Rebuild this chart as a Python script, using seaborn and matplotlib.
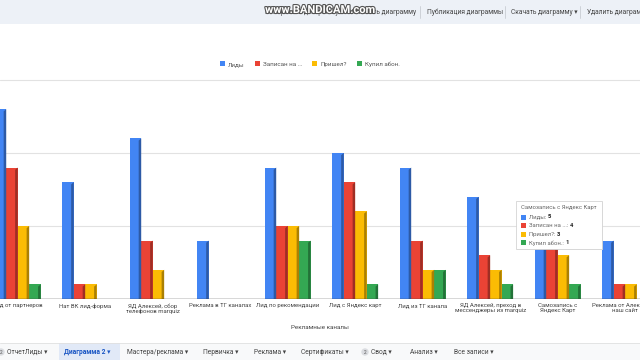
import numpy as np
import pandas as pd
import matplotlib
matplotlib.use("Agg")
import matplotlib.pyplot as plt
import matplotlib.patheffects as pe
from matplotlib.patches import Polygon, Rectangle
from matplotlib.text import Annotation
from matplotlib.colors import to_rgb
import seaborn as sns

sns.set_style("white")
plt.rcParams["font.family"] = ["Roboto", "DejaVu Sans"]

# ---------- data ----------
channels = [
    "Лид от партнеров",
    "Нат ВК лид-форма",
    "ЯД Алексей, сбор\nтелефонов marquiz",
    "Реклама в ТГ каналах",
    "Лид по рекомендации",
    "Лид с Яндекс карт",
    "Лид из ТГ канала",
    "ЯД Алексей, преход в\nмессенджеры из marquiz",
    "Самозапись с\nЯндекс Карт",
    "Реклама от Алексея на\nнаш сайт",
]
series = ["Лиды", "Записан на ...", "Пришел?", "Купил абон."]
leads = [13, 8, 11, 4, 9, 10, 9, 7, 5, 4]
booked = [9, 1, 4, 0, 5, 8, 4, 3, 4, 1]
came = [5, 1, 2, 0, 5, 6, 2, 2, 3, 1]
bought = [1, 0, 0, 0, 4, 1, 2, 1, 1, 0]
colors = ["#4285f4", "#ea4335", "#fbbc04", "#34a853"]

toolbar_items = ["Копировать диаграмму", "Изменить диаграмму", "Публикация диаграммы",
                 "Скачать диаграмму ▾", "Удалить диаграмму"]
sheet_tabs = ["ОтчетЛиды ▾", "Диаграмма 2 ▾", "Мастера/реклама ▾", "Первичка ▾", "Реклама ▾",
              "Сертификаты ▾", "Свод ▾", "Анализ ▾", "Все записи ▾"]
tooltip_idx = 8

df = pd.DataFrame({
    "channel": channels * len(series),
    "series": np.repeat(series, len(channels)),
    "value": leads + booked + came + bought,
})

W, H = 640, 360


def fx(x):
    return x / W


def fy(y):
    return 1 - y / H


fig = plt.figure(figsize=(6.4, 3.6), dpi=100)
ax = fig.add_axes([0, fy(299), 1, (299 - 75) / H])

sns.barplot(data=df, x="channel", y="value", hue="series", palette=colors,
            saturation=1, width=0.68, gap=0, ax=ax, zorder=3, linewidth=0)

# fake 3D side of each bar
for bar in list(ax.patches):
    h = bar.get_height()
    if not h or h <= 0:
        continue
    x0, w = bar.get_x(), bar.get_width()
    c = np.array(to_rgb(bar.get_facecolor()))
    xs = x0 + 0.78 * w
    ax.add_patch(Polygon([(xs, 0), (x0 + w, 0), (x0 + w, h), (xs, h - 0.15)],
                         closed=True, facecolor=c * 0.68, lw=0, zorder=4))

ax.set_xlim(-0.262, 9.22)
ax.set_ylim(0, 15.34)
ax.set_yticks([0, 5, 10, 15])
ax.yaxis.grid(True, color="#e2e2e2", lw=0.8)
ax.set_axisbelow(True)
ax.axhline(0, color="#444444", lw=1, zorder=6)
for s in ax.spines.values():
    s.set_visible(False)
ax.tick_params(axis="y", labelleft=False, length=0)
ax.tick_params(axis="x", length=0, pad=3)
ax.set_xticks(range(len(channels)))
ax.set_xticklabels(channels, fontsize=4.3, color="#444444", linespacing=1.0)
ax.set_ylabel("")
ax.set_xlabel("Рекламные каналы", fontsize=4.5, color="#444444")
ax.xaxis.set_label_coords(0.5, -0.118)

sns.move_legend(ax, "center", bbox_to_anchor=(fx(310), fy(64)), bbox_transform=fig.transFigure,
                ncol=4, frameon=False, title=None, fontsize=4.5, handlelength=0.8,
                handleheight=0.8, columnspacing=1.6, handletextpad=0.5)
for t in ax.get_legend().get_texts():
    t.set_color("#555555")

# ---------- toolbar (top) ----------
fig.add_artist(Rectangle((0, fy(24)), 1, 24 / H, transform=fig.transFigure,
                         facecolor="#edf1f7", lw=0, zorder=0))
for x, label in zip([265, 349, 427, 511, 587], toolbar_items):
    fig.text(fx(x), fy(12), label, fontsize=4.8, color="#444444", va="center", ha="left")
for x in [420, 505, 580]:
    fig.add_artist(plt.Line2D([fx(x), fx(x)], [fy(6), fy(18)], transform=fig.transFigure,
                              color="#c8ccd2", lw=0.6))
fig.text(fx(320), fy(10), "www.BANDICAM.com", fontsize=8, fontweight="bold", color="white",
         ha="center", va="center", zorder=20,
         path_effects=[pe.withStroke(linewidth=1.6, foreground="#555555")])

# ---------- sheet tabs (bottom) ----------
fig.add_artist(Rectangle((0, 0), 1, 17 / H, transform=fig.transFigure,
                         facecolor="#f8f9fa", lw=0, zorder=0))
fig.add_artist(plt.Line2D([0, 1], [17 / H, 17 / H], transform=fig.transFigure,
                          color="#e0e0e0", lw=0.6))
fig.add_artist(Rectangle((fx(59), 0), 61 / W, 17 / H, transform=fig.transFigure,
                         facecolor="#e1e9f7", lw=0, zorder=1))
for x, label in zip([7, 64, 127, 203, 254, 301, 371, 410, 454], sheet_tabs):
    sel = label.startswith("Диаграмма")
    fig.text(fx(x), fy(352), label, fontsize=4.8, va="center", ha="left",
             color="#1a56c4" if sel else "#444444", fontweight="bold" if sel else "normal")
for x in [1, 365]:
    fig.text(fx(x), fy(352), "2", fontsize=3.4, va="center", ha="center", color="#555555",
             bbox=dict(boxstyle="circle,pad=0.25", facecolor="#dadce0", lw=0))

# ---------- tooltip ----------
fig.add_artist(Rectangle((fx(517), fy(250)), 86 / W, 48 / H, transform=fig.transFigure,
                         facecolor="#dddddd", lw=0, zorder=9, alpha=0.6))
fig.add_artist(Rectangle((fx(516), fy(249)), 86 / W, 48 / H, transform=fig.transFigure,
                         facecolor="white", edgecolor="#cccccc", lw=0.5, zorder=10))
fig.text(fx(521), fy(208), channels[tooltip_idx].replace("\n", " "), fontsize=4.2,
         color="#666666", va="center", ha="left", zorder=11)
vals = [leads, booked, came, bought]
for i, (name, col, v) in enumerate(zip(series, colors, vals)):
    yy = 217 + i * 8.6
    fig.add_artist(Rectangle((fx(521), fy(yy + 2.5)), 5 / W, 5 / H, transform=fig.transFigure,
                             facecolor=col, lw=0, zorder=11))
    t = fig.text(fx(529), fy(yy), f"{name}: ", fontsize=4.2, color="#666666",
                 va="center", ha="left", zorder=11)
    fig.add_artist(Annotation(str(v[tooltip_idx]), xy=(1, 0.5), xycoords=t, fontsize=4.2,
                              fontweight="bold", color="#222222", va="center", ha="left",
                              zorder=11))

fig.savefig("out.png", dpi=100)
